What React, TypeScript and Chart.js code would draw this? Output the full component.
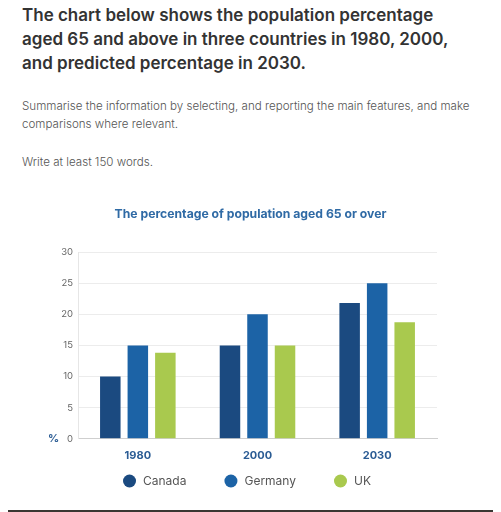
import React, { useEffect, useRef } from "react";
import { Chart, registerables } from "chart.js";

Chart.register(...registerables);

const years = ["1980", "2000", "2030"];
const canada = [10, 15, 21.8];
const germany = [15, 20, 25];
const uk = [13.8, 15, 18.7];
const seriesNames = ["Canada", "Germany", "UK"];
const seriesColors = ["#1b4a80", "#1c63a6", "#a9c94e"];
const yMin = 0;
const yMax = 30;
const yStep = 5;
const chartTitle = "The percentage of population aged 65 or over";
const unitLabel = "%";

const FONT = "Inter, 'Open Sans', sans-serif";

const extrasPlugin = {
  id: "extras",
  afterDraw(chart: any) {
    const { ctx } = chart;
    const ys = chart.scales.y;
    ctx.save();
    // chart title
    ctx.font = `bold 12.2px ${FONT}`;
    ctx.fillStyle = "#2f6aa5";
    ctx.textAlign = "center";
    ctx.textBaseline = "middle";
    ctx.fillText(chartTitle, 250.5, 19.5);
    // unit label
    ctx.font = `bold 11px ${FONT}`;
    ctx.fillStyle = "#2f5f96";
    ctx.textAlign = "left";
    ctx.fillText(unitLabel, 48, ys.getPixelForValue(0));
    // legend
    ctx.font = `12px ${FONT}`;
    const r = 6.5;
    const gap = 7;
    const pad = 38;
    const items = chart.data.datasets.map((ds: any) => ({
      label: ds.label,
      color: ds.backgroundColor,
      w: 2 * r + gap + ctx.measureText(ds.label).width,
    }));
    const total =
      items.reduce((s: number, it: any) => s + it.w, 0) + pad * (items.length - 1);
    let x = 247 - total / 2;
    const ly = 286;
    items.forEach((it: any) => {
      ctx.beginPath();
      ctx.fillStyle = it.color;
      ctx.arc(x + r, ly, r, 0, Math.PI * 2);
      ctx.fill();
      ctx.fillStyle = "#555";
      ctx.fillText(it.label, x + 2 * r + gap, ly + 0.5);
      x += it.w + pad;
    });
    ctx.restore();
  },
};

function BarChart() {
  const ref = useRef<HTMLCanvasElement>(null);
  useEffect(() => {
    if (!ref.current) return;
    const seriesData = [canada, germany, uk];
    const chart = new Chart(ref.current, {
      type: "bar",
      data: {
        labels: years,
        datasets: seriesNames.map((name, i) => ({
          label: name,
          data: seriesData[i],
          backgroundColor: seriesColors[i],
          borderWidth: 0,
          categoryPercentage: 0.69,
          barPercentage: 0.745,
        })),
      },
      options: {
        animation: false,
        responsive: true,
        maintainAspectRatio: false,
        layout: { padding: { left: 40, right: 64, top: 57, bottom: 38 } },
        plugins: {
          legend: { display: false },
          tooltip: { enabled: false },
          title: { display: false },
        },
        scales: {
          x: {
            grid: { display: false, drawTicks: false },
            border: { display: true, color: "#cfcfcf", width: 1 },
            ticks: {
              color: "#2b5c94",
              font: { family: FONT, size: 11, weight: "bold" },
              padding: 10,
            },
          },
          y: {
            min: yMin,
            max: yMax,
            afterFit: (scale: any) => {
              scale.width = 38;
            },
            grid: { color: "#ececec", drawTicks: false },
            border: { display: true, color: "#e6e6e6" },
            ticks: {
              stepSize: yStep,
              color: "#666",
              font: { family: FONT, size: 9.5 },
              padding: 5,
            },
          },
        },
      },
      plugins: [extrasPlugin],
    } as any);
    return () => chart.destroy();
  }, []);
  return <canvas ref={ref} />;
}

export default function App() {
  return (
    <div
      style={{
        position: "relative",
        width: 501,
        height: 512,
        margin: "-8px 0 0 -8px",
        background: "#fff",
        fontFamily: FONT,
        overflow: "hidden",
      }}
    >
      <div
        style={{
          position: "absolute",
          left: 22,
          top: 3,
          width: 475,
          fontSize: 17,
          fontWeight: 600,
          lineHeight: "24px",
          color: "#333",
          whiteSpace: "nowrap",
        }}
      >
        The chart below shows the population percentage
        <br />
        aged 65 and above in three countries in 1980, 2000,
        <br />
        and predicted percentage in 2030.
      </div>
      <div
        style={{
          position: "absolute",
          left: 22,
          top: 97,
          width: 475,
          fontSize: 11.6,
          fontWeight: 300,
          lineHeight: "18px",
          color: "#555",
          whiteSpace: "nowrap",
        }}
      >
        Summarise the information by selecting, and reporting the main features, and make
        <br />
        comparisons where relevant.
      </div>
      <div
        style={{
          position: "absolute",
          left: 22,
          top: 153,
          fontSize: 11.6,
          fontWeight: 300,
          lineHeight: "18px",
          color: "#555",
          whiteSpace: "nowrap",
        }}
      >
        Write at least 150 words.
      </div>
      <div style={{ position: "absolute", left: 0, top: 195, width: 501, height: 315 }}>
        <BarChart />
      </div>
      <div
        style={{
          position: "absolute",
          left: 0,
          top: 510,
          width: 501,
          height: 2,
          background: "#3a3632",
        }}
      />
    </div>
  );
}
